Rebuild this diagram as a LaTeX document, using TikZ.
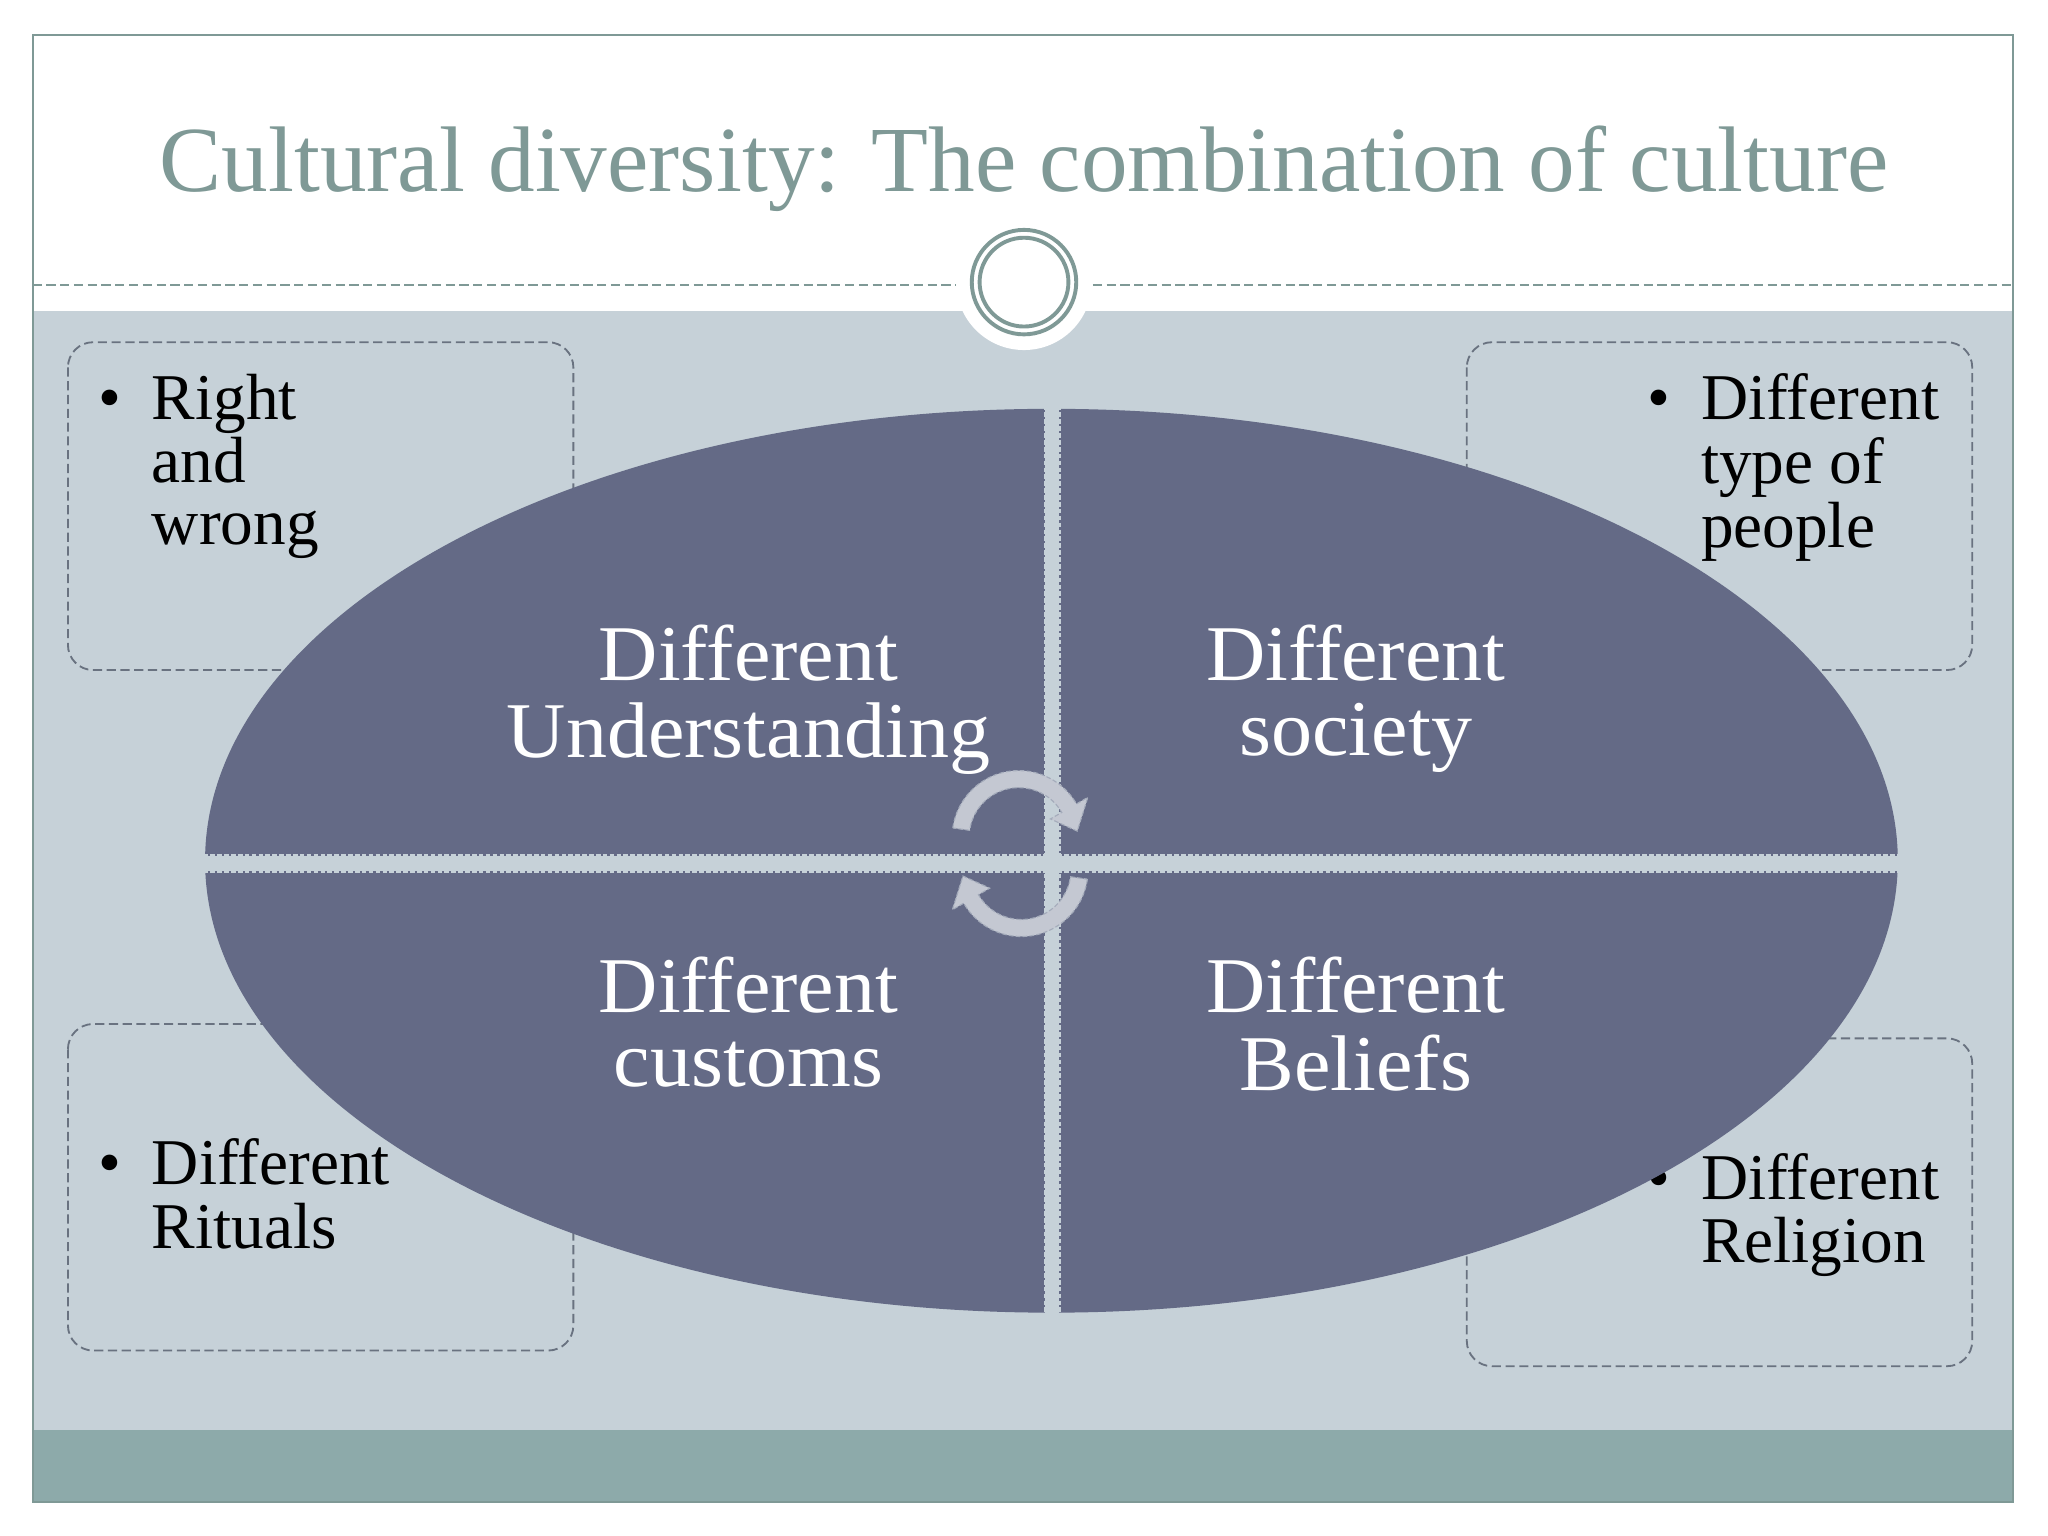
\documentclass[tikz,border=0pt]{standalone}
\usepackage{fontspec}
\setmainfont{Liberation Serif}
\newfontfamily\quadfont[FakeStretch=1.04]{Liberation Serif}
\definecolor{bandc}{RGB}{198,209,216}
\definecolor{barc}{RGB}{141,170,170}
\definecolor{tealc}{RGB}{127,153,150}
\definecolor{ellc}{RGB}{100,106,134}
\definecolor{arrc}{RGB}{196,200,210}
\definecolor{arrline}{RGB}{165,172,187}
\definecolor{boxc}{RGB}{105,114,128}
\begin{document}
\begin{tikzpicture}[x=0.02cm,y=-0.02cm,
  titletext/.style={font=\fontsize{40.6}{44}\selectfont, text=tealc, inner sep=0pt},
  quadtext/.style={font=\quadfont\fontsize{34.4}{32.4}\selectfont, text=white, inner sep=0pt},
  cornertext/.style={font=\fontsize{28.45}{26.7}\selectfont, text=black, inner sep=0pt},
  dashbox/.style={draw=boxc, line width=0.8pt, dash pattern=on 4pt off 2pt, rounded corners=11pt},
  cyclearrow/.style={fill=arrc, draw=arrline, line width=0.5pt, dash pattern=on 2pt off 1pt},
  ring/.style={draw=tealc, line width=1.7pt},
  qedge/.style={draw=bandc, line width=0.6pt, dash pattern=on 2pt off 1pt}
]
\useasboundingbox (0,0) rectangle (1568,1176);
\fill[white] (0,0) rectangle (1568,1176);
% bands
\fill[bandc] (25,238) rectangle (1541,1095);
\fill[barc] (25,1095) rectangle (1541,1150);
% title separator
\draw[tealc, line width=1pt, dash pattern=on 4pt off 2pt] (25,218) -- (1541,218);
% ornament
\fill[white] (784,216) circle[radius=52];
\draw[ring] (784,216) circle[radius=40];
\draw[ring] (784,216) circle[radius=34];
% frame
\draw[tealc, line width=0.9pt] (25,27) rectangle (1541,1150);
% title
\node[titletext, anchor=base] (title) at (784,147) {Cultural diversity: The combination of culture};
% corner boxes
\draw[dashbox] (52,262) rectangle (439,513);
\draw[dashbox] (1123,262) rectangle (1510,513);
\draw[dashbox] (52,784) rectangle (439,1034);
\draw[dashbox] (1123,795) rectangle (1510,1046);
% corner texts
\node[cornertext, anchor=base] (b1) at (84,321) {•};
\node[cornertext, anchor=base west] (t1) at (116,321) {\begin{tabular}[t]{@{}l@{}}Right\\and\\wrong\end{tabular}};
\node[cornertext, anchor=base] (b2) at (1270,321) {•};
\node[cornertext, anchor=base west] (t2) at (1302,321) {\begin{tabular}[t]{@{}l@{}}Different\\type of\\people\end{tabular}};
\node[cornertext, anchor=base] (b3) at (84,907) {•};
\node[cornertext, anchor=base west] (t3) at (116,907) {\begin{tabular}[t]{@{}l@{}}Different\\Rituals\end{tabular}};
\node[cornertext, anchor=base] (b4) at (1270,918) {•};
\node[cornertext, anchor=base west] (t4) at (1302,918) {\begin{tabular}[t]{@{}l@{}}Different\\Religion\end{tabular}};
% ellipse
\fill[ellc] (805,659) ellipse[x radius=648, y radius=346];
\begin{scope}
  \clip (805,659) ellipse[x radius=650, y radius=348];
  \fill[bandc] (800,300) rectangle (811,1020);
  \fill[bandc] (140,655) rectangle (1470,667);
  \draw[qedge] (799.5,300) -- (799.5,1020);
  \draw[qedge] (811.5,300) -- (811.5,1020);
  \draw[qedge] (140,654.5) -- (1470,654.5);
  \draw[qedge] (140,667.5) -- (1470,667.5);
\end{scope}
% quadrant texts
\node[quadtext, anchor=base] (q1) at (573,521) {\begin{tabular}[t]{@{}c@{}}Different\\Understanding\end{tabular}};
\node[quadtext, anchor=base] (q2) at (1038,521) {\begin{tabular}[t]{@{}c@{}}Different\\society\end{tabular}};
\node[quadtext, anchor=base] (q3) at (573,775) {\begin{tabular}[t]{@{}c@{}}Different\\customs\end{tabular}};
\node[quadtext, anchor=base] (q4) at (1038,775) {\begin{tabular}[t]{@{}c@{}}Different\\Beliefs\end{tabular}};
% cycle arrows
\begin{scope}[shift={(780,641)}, x=0.02cm, y=0.02cm]
  \path[cyclearrow] (172:51) arc[start angle=172, end angle=30, radius=51] -- (30:61) -- (6:45) -- (30:28) -- (30:38) arc[start angle=30, end angle=172, radius=38] -- cycle;
\end{scope}
\begin{scope}[shift={(782,666)}, x=0.02cm, y=0.02cm]
  \path[cyclearrow] (-8:51) arc[start angle=-8, end angle=-150, radius=51] -- (-150:61) -- (-174:45) -- (-150:28) -- (-150:38) arc[start angle=-150, end angle=-8, radius=38] -- cycle;
\end{scope}
\end{tikzpicture}
\end{document}
